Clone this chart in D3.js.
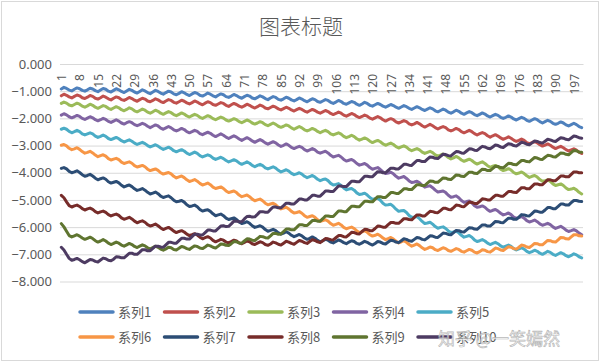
<!DOCTYPE html>
<html>
<head>
<meta charset="utf-8">
<script src="https://cdn.jsdelivr.net/npm/d3@7"></script>
<style>
    body { margin: 0; background: #fff; }
    svg { display: block; font-family: "Noto Sans", "Noto Sans CJK SC", sans-serif; }
</style>
</head>
<body>
<div id="chart"></div>
<script>
// DATA //
const chartTitle = "图表标题"
const seriesNames = ["系列1", "系列2", "系列3", "系列4", "系列5", "系列6", "系列7", "系列8", "系列9", "系列10"]
const categories = d3.range(1, 201)
const xTickLabels = [1, 8, 15, 22, 29, 36, 43, 50, 57, 64, 71, 78, 85, 92, 99, 106, 113, 120, 127, 134, 141, 148, 155, 162, 169, 176, 183, 190, 197]
const yTickValues = [0, -1, -2, -3, -4, -5, -6, -7, -8]

const s1 = [
    -0.92,-0.86,-0.90,-0.96,-0.99,-0.93,-0.88,-0.91,-0.97,-1.00,-0.95,-0.89,-0.92,-0.98,-1.02,-0.96,-0.90,-0.93,-1.00,-1.03,
    -0.97,-0.91,-0.95,-1.01,-1.05,-0.99,-0.93,-0.97,-1.03,-1.07,-1.01,-0.95,-0.99,-1.05,-1.09,-1.03,-0.97,-1.01,-1.07,-1.11,
    -1.05,-1.00,-1.03,-1.10,-1.13,-1.08,-1.02,-1.06,-1.12,-1.16,-1.10,-1.05,-1.08,-1.15,-1.18,-1.13,-1.07,-1.11,-1.17,-1.21,
    -1.15,-1.10,-1.13,-1.20,-1.23,-1.18,-1.12,-1.16,-1.22,-1.26,-1.20,-1.15,-1.18,-1.25,-1.28,-1.23,-1.17,-1.21,-1.27,-1.31,
    -1.25,-1.20,-1.23,-1.30,-1.33,-1.28,-1.22,-1.26,-1.32,-1.36,-1.31,-1.25,-1.29,-1.35,-1.39,-1.33,-1.28,-1.31,-1.38,-1.41,
    -1.36,-1.31,-1.34,-1.41,-1.45,-1.40,-1.34,-1.38,-1.45,-1.48,-1.43,-1.38,-1.41,-1.48,-1.52,-1.47,-1.41,-1.45,-1.52,-1.55,
    -1.50,-1.45,-1.49,-1.55,-1.59,-1.54,-1.49,-1.53,-1.59,-1.63,-1.58,-1.53,-1.57,-1.63,-1.67,-1.62,-1.57,-1.61,-1.67,-1.71,
    -1.66,-1.61,-1.65,-1.72,-1.76,-1.71,-1.66,-1.70,-1.77,-1.81,-1.76,-1.70,-1.74,-1.81,-1.85,-1.80,-1.75,-1.79,-1.86,-1.90,
    -1.85,-1.80,-1.84,-1.91,-1.95,-1.90,-1.85,-1.89,-1.96,-2.00,-1.96,-1.91,-1.95,-2.02,-2.06,-2.01,-1.96,-2.00,-2.07,-2.11,
    -2.06,-2.01,-2.05,-2.12,-2.17,-2.12,-2.07,-2.11,-2.18,-2.22,-2.18,-2.13,-2.17,-2.24,-2.28,-2.23,-2.18,-2.23,-2.30,-2.34
]
const s2 = [
    -1.17,-1.11,-1.15,-1.21,-1.25,-1.19,-1.14,-1.17,-1.24,-1.27,-1.22,-1.16,-1.19,-1.26,-1.29,-1.24,-1.18,-1.22,-1.28,-1.32,
    -1.26,-1.21,-1.24,-1.31,-1.34,-1.29,-1.23,-1.27,-1.33,-1.37,-1.31,-1.26,-1.29,-1.36,-1.39,-1.34,-1.28,-1.32,-1.38,-1.42,
    -1.36,-1.31,-1.34,-1.41,-1.44,-1.39,-1.33,-1.37,-1.43,-1.47,-1.42,-1.36,-1.40,-1.46,-1.50,-1.44,-1.39,-1.42,-1.49,-1.52,
    -1.47,-1.42,-1.45,-1.52,-1.56,-1.50,-1.45,-1.49,-1.55,-1.59,-1.54,-1.48,-1.52,-1.58,-1.62,-1.57,-1.51,-1.55,-1.62,-1.65,
    -1.60,-1.55,-1.59,-1.65,-1.69,-1.64,-1.59,-1.63,-1.69,-1.73,-1.68,-1.63,-1.67,-1.73,-1.77,-1.72,-1.67,-1.71,-1.77,-1.81,
    -1.76,-1.71,-1.75,-1.82,-1.86,-1.82,-1.77,-1.81,-1.88,-1.92,-1.87,-1.82,-1.86,-1.93,-1.97,-1.93,-1.88,-1.92,-1.99,-2.03,
    -1.98,-1.93,-1.98,-2.05,-2.10,-2.05,-2.01,-2.05,-2.13,-2.17,-2.13,-2.08,-2.12,-2.20,-2.24,-2.20,-2.15,-2.20,-2.27,-2.32,
    -2.27,-2.22,-2.27,-2.34,-2.39,-2.34,-2.30,-2.34,-2.42,-2.46,-2.42,-2.37,-2.41,-2.49,-2.53,-2.49,-2.44,-2.49,-2.56,-2.61,
    -2.56,-2.52,-2.56,-2.64,-2.69,-2.64,-2.60,-2.65,-2.72,-2.77,-2.73,-2.68,-2.73,-2.80,-2.85,-2.81,-2.76,-2.81,-2.89,-2.93,
    -2.89,-2.85,-2.90,-2.97,-3.02,-2.98,-2.94,-2.99,-3.06,-3.11,-3.07,-3.03,-3.08,-3.15,-3.20,-3.16,-3.12,-3.17,-3.24,-3.29
]
const s3 = [
    -1.45,-1.40,-1.44,-1.51,-1.54,-1.49,-1.44,-1.48,-1.55,-1.59,-1.54,-1.48,-1.52,-1.59,-1.63,-1.58,-1.53,-1.56,-1.63,-1.67,
    -1.62,-1.57,-1.61,-1.68,-1.72,-1.67,-1.61,-1.65,-1.72,-1.76,-1.71,-1.66,-1.70,-1.77,-1.81,-1.76,-1.70,-1.74,-1.81,-1.85,
    -1.80,-1.75,-1.79,-1.86,-1.90,-1.85,-1.80,-1.84,-1.91,-1.95,-1.90,-1.85,-1.89,-1.96,-2.00,-1.95,-1.90,-1.94,-2.01,-2.05,
    -2.00,-1.95,-1.99,-2.06,-2.10,-2.06,-2.01,-2.05,-2.12,-2.16,-2.11,-2.06,-2.10,-2.17,-2.21,-2.17,-2.12,-2.16,-2.23,-2.27,
    -2.22,-2.17,-2.22,-2.29,-2.33,-2.29,-2.24,-2.28,-2.35,-2.40,-2.35,-2.30,-2.35,-2.42,-2.46,-2.42,-2.37,-2.41,-2.48,-2.53,
    -2.48,-2.44,-2.49,-2.57,-2.61,-2.57,-2.53,-2.58,-2.66,-2.71,-2.67,-2.62,-2.67,-2.75,-2.80,-2.76,-2.72,-2.76,-2.84,-2.89,
    -2.85,-2.81,-2.86,-2.94,-2.99,-2.95,-2.91,-2.96,-3.04,-3.09,-3.05,-3.01,-3.06,-3.14,-3.19,-3.15,-3.11,-3.16,-3.24,-3.29,
    -3.25,-3.21,-3.26,-3.34,-3.39,-3.35,-3.31,-3.36,-3.44,-3.49,-3.45,-3.40,-3.45,-3.53,-3.58,-3.54,-3.50,-3.55,-3.63,-3.68,
    -3.64,-3.60,-3.66,-3.74,-3.80,-3.76,-3.73,-3.78,-3.87,-3.92,-3.89,-3.85,-3.90,-3.99,-4.04,-4.01,-3.97,-4.03,-4.11,-4.17,
    -4.13,-4.10,-4.16,-4.25,-4.31,-4.29,-4.26,-4.32,-4.41,-4.47,-4.44,-4.41,-4.47,-4.56,-4.62,-4.60,-4.57,-4.63,-4.72,-4.78
]
const s4 = [
    -1.88,-1.83,-1.87,-1.94,-1.98,-1.94,-1.89,-1.93,-2.00,-2.04,-1.99,-1.94,-1.98,-2.05,-2.09,-2.05,-2.00,-2.04,-2.11,-2.15,
    -2.10,-2.05,-2.10,-2.17,-2.21,-2.16,-2.12,-2.16,-2.23,-2.27,-2.23,-2.18,-2.22,-2.29,-2.34,-2.29,-2.24,-2.28,-2.36,-2.40,
    -2.35,-2.30,-2.35,-2.42,-2.46,-2.42,-2.37,-2.41,-2.49,-2.53,-2.49,-2.44,-2.48,-2.56,-2.60,-2.55,-2.51,-2.55,-2.62,-2.67,
    -2.62,-2.57,-2.62,-2.69,-2.74,-2.69,-2.64,-2.69,-2.76,-2.81,-2.76,-2.71,-2.76,-2.83,-2.88,-2.83,-2.78,-2.83,-2.90,-2.95,
    -2.90,-2.86,-2.90,-2.98,-3.03,-2.99,-2.94,-2.99,-3.07,-3.11,-3.07,-3.03,-3.07,-3.15,-3.20,-3.16,-3.11,-3.16,-3.24,-3.28,
    -3.24,-3.21,-3.27,-3.36,-3.42,-3.39,-3.36,-3.42,-3.51,-3.57,-3.54,-3.51,-3.57,-3.66,-3.72,-3.69,-3.66,-3.72,-3.81,-3.87,
    -3.84,-3.81,-3.88,-3.97,-4.03,-4.01,-3.98,-4.04,-4.13,-4.20,-4.17,-4.14,-4.21,-4.30,-4.36,-4.34,-4.31,-4.37,-4.46,-4.53,
    -4.50,-4.48,-4.55,-4.64,-4.71,-4.69,-4.67,-4.73,-4.83,-4.90,-4.88,-4.85,-4.92,-5.02,-5.09,-5.06,-5.04,-5.11,-5.21,-5.27,
    -5.25,-5.22,-5.27,-5.36,-5.42,-5.38,-5.35,-5.41,-5.49,-5.55,-5.52,-5.48,-5.54,-5.63,-5.68,-5.65,-5.61,-5.67,-5.76,-5.81,
    -5.78,-5.74,-5.80,-5.88,-5.93,-5.90,-5.86,-5.91,-5.99,-6.05,-6.01,-5.97,-6.03,-6.11,-6.16,-6.13,-6.09,-6.14,-6.22,-6.28
]
const s5 = [
    -2.40,-2.36,-2.40,-2.48,-2.53,-2.49,-2.44,-2.49,-2.57,-2.61,-2.57,-2.53,-2.57,-2.65,-2.70,-2.66,-2.61,-2.66,-2.74,-2.78,
    -2.74,-2.70,-2.75,-2.82,-2.87,-2.83,-2.79,-2.84,-2.91,-2.96,-2.92,-2.88,-2.93,-3.00,-3.05,-3.01,-2.97,-3.02,-3.09,-3.14,
    -3.10,-3.06,-3.11,-3.19,-3.23,-3.19,-3.15,-3.20,-3.28,-3.33,-3.29,-3.24,-3.29,-3.37,-3.42,-3.38,-3.34,-3.38,-3.46,-3.51,
    -3.47,-3.43,-3.48,-3.55,-3.60,-3.56,-3.52,-3.56,-3.64,-3.69,-3.65,-3.60,-3.65,-3.73,-3.78,-3.73,-3.69,-3.74,-3.82,-3.86,
    -3.82,-3.78,-3.83,-3.91,-3.97,-3.93,-3.89,-3.94,-4.02,-4.07,-4.04,-4.00,-4.05,-4.13,-4.18,-4.14,-4.10,-4.16,-4.24,-4.29,
    -4.25,-4.23,-4.29,-4.39,-4.45,-4.43,-4.40,-4.47,-4.56,-4.63,-4.60,-4.58,-4.64,-4.74,-4.80,-4.78,-4.75,-4.82,-4.91,-4.98,
    -4.95,-4.94,-5.01,-5.12,-5.19,-5.18,-5.16,-5.24,-5.34,-5.42,-5.40,-5.39,-5.46,-5.57,-5.64,-5.63,-5.61,-5.69,-5.79,-5.87,
    -5.85,-5.82,-5.89,-5.98,-6.04,-6.01,-5.99,-6.05,-6.14,-6.20,-6.18,-6.15,-6.21,-6.30,-6.37,-6.34,-6.31,-6.37,-6.47,-6.53,
    -6.50,-6.46,-6.51,-6.59,-6.64,-6.60,-6.56,-6.61,-6.69,-6.74,-6.70,-6.66,-6.71,-6.79,-6.84,-6.80,-6.76,-6.81,-6.89,-6.94,
    -6.90,-6.85,-6.89,-6.96,-7.00,-6.95,-6.89,-6.93,-7.00,-7.04,-6.99,-6.94,-6.98,-7.05,-7.09,-7.04,-6.98,-7.02,-7.09,-7.13
]
const s6 = [
    -2.99,-2.96,-3.01,-3.10,-3.15,-3.12,-3.08,-3.14,-3.22,-3.28,-3.25,-3.21,-3.27,-3.35,-3.41,-3.37,-3.34,-3.39,-3.48,-3.53,
    -3.50,-3.47,-3.52,-3.61,-3.66,-3.63,-3.60,-3.65,-3.74,-3.79,-3.76,-3.73,-3.78,-3.87,-3.92,-3.89,-3.86,-3.91,-4.00,-4.05,
    -4.02,-3.99,-4.04,-4.13,-4.19,-4.15,-4.12,-4.18,-4.26,-4.32,-4.29,-4.25,-4.31,-4.39,-4.45,-4.42,-4.38,-4.44,-4.53,-4.58,
    -4.55,-4.52,-4.58,-4.67,-4.73,-4.70,-4.67,-4.73,-4.82,-4.88,-4.85,-4.82,-4.88,-4.97,-5.03,-5.00,-4.97,-5.03,-5.12,-5.18,
    -5.15,-5.12,-5.18,-5.27,-5.33,-5.30,-5.27,-5.33,-5.42,-5.48,-5.46,-5.43,-5.49,-5.58,-5.64,-5.61,-5.58,-5.64,-5.73,-5.79,
    -5.76,-5.73,-5.78,-5.87,-5.93,-5.90,-5.86,-5.92,-6.01,-6.06,-6.03,-6.00,-6.05,-6.14,-6.20,-6.17,-6.13,-6.19,-6.28,-6.33,
    -6.30,-6.26,-6.32,-6.40,-6.46,-6.42,-6.38,-6.44,-6.52,-6.58,-6.54,-6.50,-6.56,-6.64,-6.70,-6.66,-6.62,-6.68,-6.76,-6.82,
    -6.78,-6.73,-6.76,-6.83,-6.86,-6.81,-6.76,-6.79,-6.86,-6.89,-6.84,-6.79,-6.82,-6.89,-6.92,-6.87,-6.82,-6.85,-6.92,-6.95,
    -6.90,-6.83,-6.85,-6.90,-6.92,-6.85,-6.77,-6.79,-6.84,-6.86,-6.79,-6.72,-6.74,-6.79,-6.81,-6.74,-6.66,-6.68,-6.73,-6.75,
    -6.68,-6.60,-6.61,-6.65,-6.65,-6.57,-6.49,-6.50,-6.54,-6.55,-6.47,-6.38,-6.39,-6.43,-6.44,-6.36,-6.28,-6.28,-6.32,-6.33
]
const s7 = [
    -3.84,-3.81,-3.86,-3.95,-4.00,-3.97,-3.93,-3.99,-4.07,-4.13,-4.10,-4.06,-4.12,-4.20,-4.26,-4.22,-4.19,-4.24,-4.33,-4.38,
    -4.35,-4.32,-4.37,-4.46,-4.52,-4.48,-4.45,-4.51,-4.59,-4.65,-4.62,-4.58,-4.64,-4.72,-4.78,-4.75,-4.71,-4.77,-4.86,-4.91,
    -4.88,-4.85,-4.92,-5.01,-5.07,-5.05,-5.02,-5.08,-5.18,-5.24,-5.22,-5.19,-5.25,-5.35,-5.41,-5.38,-5.36,-5.42,-5.51,-5.58,
    -5.55,-5.52,-5.58,-5.67,-5.72,-5.69,-5.66,-5.72,-5.81,-5.87,-5.84,-5.80,-5.86,-5.95,-6.01,-5.98,-5.95,-6.00,-6.09,-6.15,
    -6.12,-6.08,-6.13,-6.21,-6.26,-6.22,-6.17,-6.22,-6.30,-6.35,-6.31,-6.27,-6.32,-6.40,-6.45,-6.41,-6.36,-6.41,-6.49,-6.54,
    -6.50,-6.45,-6.48,-6.55,-6.58,-6.53,-6.47,-6.51,-6.57,-6.61,-6.55,-6.50,-6.53,-6.60,-6.63,-6.58,-6.52,-6.56,-6.62,-6.66,
    -6.60,-6.53,-6.55,-6.60,-6.62,-6.55,-6.48,-6.50,-6.55,-6.57,-6.50,-6.43,-6.45,-6.50,-6.52,-6.45,-6.38,-6.40,-6.45,-6.47,
    -6.40,-6.32,-6.33,-6.37,-6.38,-6.30,-6.22,-6.23,-6.27,-6.28,-6.20,-6.12,-6.13,-6.17,-6.18,-6.10,-6.02,-6.03,-6.07,-6.08,
    -6.00,-5.92,-5.92,-5.96,-5.96,-5.88,-5.79,-5.80,-5.83,-5.84,-5.75,-5.67,-5.67,-5.71,-5.71,-5.63,-5.54,-5.55,-5.58,-5.59,
    -5.50,-5.41,-5.42,-5.45,-5.45,-5.37,-5.28,-5.28,-5.32,-5.32,-5.24,-5.15,-5.15,-5.19,-5.19,-5.10,-5.02,-5.02,-5.05,-5.06
]
const s8 = [
    -4.83,-4.92,-5.07,-5.21,-5.26,-5.22,-5.19,-5.24,-5.32,-5.37,-5.33,-5.30,-5.35,-5.43,-5.48,-5.44,-5.41,-5.46,-5.54,-5.59,
    -5.55,-5.52,-5.57,-5.66,-5.71,-5.68,-5.64,-5.70,-5.78,-5.84,-5.80,-5.77,-5.82,-5.91,-5.96,-5.93,-5.89,-5.95,-6.03,-6.09,
    -6.05,-6.01,-6.07,-6.15,-6.20,-6.16,-6.13,-6.18,-6.26,-6.31,-6.28,-6.24,-6.29,-6.37,-6.43,-6.39,-6.35,-6.40,-6.49,-6.54,
    -6.50,-6.45,-6.48,-6.55,-6.58,-6.53,-6.48,-6.51,-6.58,-6.61,-6.56,-6.51,-6.54,-6.61,-6.64,-6.59,-6.54,-6.57,-6.64,-6.67,
    -6.62,-6.55,-6.58,-6.63,-6.66,-6.59,-6.52,-6.55,-6.60,-6.63,-6.56,-6.49,-6.52,-6.57,-6.60,-6.53,-6.46,-6.49,-6.54,-6.57,
    -6.50,-6.42,-6.43,-6.46,-6.47,-6.39,-6.31,-6.31,-6.35,-6.36,-6.28,-6.19,-6.20,-6.24,-6.25,-6.16,-6.08,-6.09,-6.13,-6.13,
    -6.05,-5.96,-5.97,-6.00,-6.00,-5.91,-5.83,-5.83,-5.86,-5.86,-5.78,-5.69,-5.69,-5.72,-5.73,-5.64,-5.55,-5.55,-5.59,-5.59,
    -5.50,-5.42,-5.43,-5.46,-5.47,-5.39,-5.31,-5.31,-5.35,-5.36,-5.28,-5.19,-5.20,-5.24,-5.25,-5.16,-5.08,-5.09,-5.13,-5.13,
    -5.05,-4.96,-4.97,-5.00,-5.00,-4.91,-4.83,-4.83,-4.86,-4.86,-4.78,-4.69,-4.69,-4.72,-4.73,-4.64,-4.55,-4.55,-4.59,-4.59,
    -4.50,-4.41,-4.41,-4.44,-4.44,-4.35,-4.26,-4.26,-4.29,-4.29,-4.21,-4.12,-4.12,-4.15,-4.15,-4.06,-3.97,-3.97,-4.00,-4.00
]
const s9 = [
    -5.87,-5.99,-6.15,-6.31,-6.36,-6.32,-6.28,-6.33,-6.40,-6.45,-6.41,-6.37,-6.42,-6.50,-6.55,-6.51,-6.46,-6.51,-6.59,-6.64,
    -6.60,-6.55,-6.59,-6.66,-6.70,-6.65,-6.60,-6.64,-6.71,-6.75,-6.70,-6.65,-6.69,-6.76,-6.80,-6.75,-6.70,-6.74,-6.81,-6.85,
    -6.80,-6.74,-6.76,-6.82,-6.84,-6.78,-6.71,-6.74,-6.79,-6.82,-6.75,-6.69,-6.71,-6.77,-6.79,-6.73,-6.66,-6.69,-6.74,-6.77,
    -6.70,-6.62,-6.63,-6.67,-6.68,-6.61,-6.53,-6.54,-6.58,-6.59,-6.51,-6.43,-6.44,-6.48,-6.49,-6.42,-6.34,-6.35,-6.39,-6.40,
    -6.32,-6.23,-6.23,-6.26,-6.25,-6.16,-6.07,-6.07,-6.10,-6.10,-6.01,-5.91,-5.91,-5.94,-5.94,-5.85,-5.76,-5.75,-5.78,-5.78,
    -5.69,-5.59,-5.59,-5.61,-5.61,-5.51,-5.41,-5.41,-5.43,-5.43,-5.33,-5.23,-5.23,-5.25,-5.25,-5.15,-5.05,-5.05,-5.07,-5.07,
    -4.97,-4.88,-4.88,-4.91,-4.91,-4.82,-4.73,-4.73,-4.76,-4.76,-4.68,-4.59,-4.59,-4.62,-4.62,-4.53,-4.44,-4.44,-4.47,-4.47,
    -4.38,-4.30,-4.31,-4.35,-4.35,-4.27,-4.19,-4.20,-4.24,-4.25,-4.17,-4.08,-4.09,-4.13,-4.14,-4.06,-3.98,-3.98,-4.02,-4.03,
    -3.95,-3.87,-3.88,-3.92,-3.92,-3.84,-3.76,-3.77,-3.81,-3.82,-3.74,-3.65,-3.66,-3.70,-3.71,-3.63,-3.55,-3.55,-3.59,-3.60,
    -3.52,-3.44,-3.46,-3.50,-3.51,-3.43,-3.36,-3.37,-3.41,-3.42,-3.35,-3.27,-3.28,-3.32,-3.34,-3.26,-3.18,-3.19,-3.24,-3.25
]
const s10 = [
    -6.74,-6.84,-7.00,-7.15,-7.22,-7.19,-7.15,-7.20,-7.27,-7.31,-7.25,-7.19,-7.21,-7.26,-7.28,-7.21,-7.14,-7.16,-7.22,-7.24,
    -7.18,-7.09,-7.10,-7.13,-7.13,-7.05,-6.96,-6.96,-7.00,-7.00,-6.92,-6.83,-6.83,-6.87,-6.87,-6.78,-6.70,-6.70,-6.73,-6.74,
    -6.65,-6.56,-6.56,-6.59,-6.59,-6.50,-6.41,-6.41,-6.44,-6.44,-6.35,-6.26,-6.26,-6.29,-6.29,-6.20,-6.11,-6.11,-6.14,-6.14,
    -6.05,-5.96,-5.95,-5.98,-5.97,-5.88,-5.78,-5.78,-5.80,-5.80,-5.70,-5.61,-5.60,-5.63,-5.62,-5.53,-5.43,-5.43,-5.45,-5.45,
    -5.35,-5.26,-5.26,-5.29,-5.29,-5.21,-5.12,-5.12,-5.15,-5.15,-5.06,-4.97,-4.97,-5.00,-5.00,-4.92,-4.83,-4.83,-4.86,-4.86,
    -4.77,-4.67,-4.67,-4.69,-4.69,-4.59,-4.49,-4.49,-4.51,-4.51,-4.41,-4.31,-4.31,-4.33,-4.33,-4.23,-4.13,-4.13,-4.15,-4.15,
    -4.05,-3.96,-3.97,-4.00,-4.00,-3.91,-3.83,-3.83,-3.86,-3.86,-3.78,-3.69,-3.69,-3.72,-3.73,-3.64,-3.55,-3.55,-3.59,-3.59,
    -3.50,-3.42,-3.43,-3.47,-3.48,-3.40,-3.32,-3.33,-3.37,-3.38,-3.30,-3.22,-3.23,-3.27,-3.28,-3.20,-3.12,-3.13,-3.17,-3.18,
    -3.10,-3.03,-3.05,-3.10,-3.12,-3.05,-2.98,-3.00,-3.05,-3.07,-3.00,-2.93,-2.95,-3.00,-3.02,-2.95,-2.88,-2.90,-2.95,-2.97,
    -2.90,-2.83,-2.85,-2.89,-2.91,-2.84,-2.77,-2.79,-2.83,-2.85,-2.78,-2.71,-2.73,-2.77,-2.79,-2.72,-2.65,-2.67,-2.71,-2.73
]
const seriesValues = [s1, s2, s3, s4, s5, s6, s7, s8, s9, s10]
const seriesColors = ["#4F81BD", "#C0504D", "#9BBB59", "#8064A2", "#4BACC6", "#F79646", "#2C4D75", "#772C2A", "#5F7530", "#4D3B62"]

// GLOBAL VARIABLES //
let dimensions = {
    width: 602,
    height: 362,
    margin: {
        top: 64,
        right: 19,
        bottom: 80.5,
        left: 60,
    },
}

dimensions.boundedWidth = dimensions.width
    - dimensions.margin.left
    - dimensions.margin.right

dimensions.boundedHeight = dimensions.height
    - dimensions.margin.top
    - dimensions.margin.bottom

// Create scales
const xScale = d3.scalePoint()
    .domain(categories)
    .range([0, dimensions.boundedWidth])
    .padding(0.5)

const yScale = d3.scaleLinear()
    .domain([-8, 0])
    .range([dimensions.boundedHeight, 0])

function drawChart() {
    const wrapper = d3.select("#chart")
        .append("svg")
        .attr("width", dimensions.width)
        .attr("height", dimensions.height)

    // chart area border
    wrapper.append("rect")
        .attr("x", 1.5)
        .attr("y", 1.5)
        .attr("width", 597)
        .attr("height", 359)
        .attr("fill", "#fff")
        .attr("stroke", "#d9d9d9")

    wrapper.append("text")
        .attr("x", 301)
        .attr("y", 34)
        .attr("text-anchor", "middle")
        .attr("fill", "#595959")
        .style("font-family", "'Noto Sans CJK SC', sans-serif")
        .style("font-size", "21px")
        .style("font-weight", 300)
        .text(chartTitle)

    const bounds = wrapper.append("g")
        .style("transform", `translate(${
            dimensions.margin.left
        }px, ${
            dimensions.margin.top
        }px)`)

    // gridlines + y labels
    const yAxisGenerator = d3.axisLeft(yScale)
        .tickValues(yTickValues)
        .tickSize(-dimensions.boundedWidth)
        .tickPadding(8)
        .tickFormat(d3.format(".3f"))

    const yAxis = bounds.append("g")
        .call(yAxisGenerator)
    yAxis.select(".domain").remove()
    yAxis.selectAll(".tick line")
        .attr("stroke", "#d9d9d9")
    yAxis.selectAll(".tick text")
        .attr("fill", "#595959")
        .style("font-size", "13px")
        .style("font-family", "'Noto Sans', sans-serif")

    // category labels sit under the zero line, rotated
    const xAxisGenerator = d3.axisBottom(xScale)
        .tickValues(xTickLabels)
        .tickSize(0)

    const xAxis = bounds.append("g")
        .attr("transform", `translate(0, ${yScale(0)})`)
        .call(xAxisGenerator)
    xAxis.select(".domain")
        .attr("stroke", "#d9d9d9")
    xAxis.selectAll(".tick text")
        .attr("fill", "#595959")
        .style("font-size", "12px")
        .style("font-family", "'Noto Sans', sans-serif")
        .attr("text-anchor", "end")
        .attr("transform", "rotate(-90)")
        .attr("x", -10)
        .attr("y", 0)
        .attr("dy", "0.35em")

    // lines
    const lineGenerator = d3.line()
        .x((d, i) => xScale(categories[i]))
        .y(d => yScale(d))

    bounds.selectAll(".series")
        .data(seriesValues)
        .join("path")
        .attr("class", "series")
        .attr("d", d => lineGenerator(d))
        .attr("fill", "none")
        .attr("stroke", (d, i) => seriesColors[i])
        .attr("stroke-width", 3)
        .attr("stroke-linejoin", "round")
        .attr("stroke-linecap", "round")

    // legend, two rows of five
    const legend = wrapper.append("g")
    const items = legend.selectAll("g")
        .data(seriesNames)
        .join("g")
        .attr("transform", (d, i) => `translate(${80 + (i % 5) * 84.5}, ${i < 5 ? 312 : 337})`)

    items.append("line")
        .attr("x1", 0)
        .attr("x2", 33)
        .attr("stroke", (d, i) => seriesColors[i])
        .attr("stroke-width", 3.5)
        .attr("stroke-linecap", "round")

    items.append("text")
        .attr("x", 38)
        .attr("dy", "0.35em")
        .attr("fill", "#595959")
        .style("font-size", "13px")
        .style("font-family", "'Noto Sans CJK SC', sans-serif")
        .text(d => d)

    // watermark
    wrapper.append("text")
        .attr("x", 438)
        .attr("y", 345)
        .attr("fill", "#ffffff")
        .attr("fill-opacity", 0.7)
        .attr("stroke", "#a6a6a6")
        .attr("stroke-opacity", 0.8)
        .attr("stroke-width", 0.7)
        .style("font-size", "17px")
        .style("font-family", "'Noto Sans CJK SC', sans-serif")
        .text("知乎 @一笑嫣然")
}

drawChart()
</script>
</body>
</html>
